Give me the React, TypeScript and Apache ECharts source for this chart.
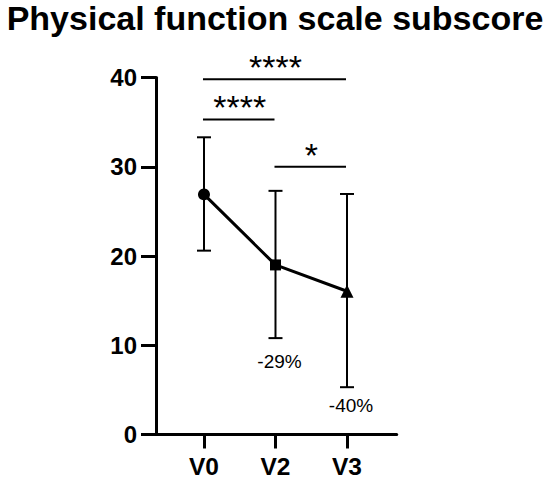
import React, { useEffect, useRef } from 'react';
import * as echarts from 'echarts';

// visits and summary values (mean with error bar limits)
const visits = ['V0', 'V2', 'V3'];
const means = [26.9, 19.0, 16.05];
const upper = [33.3, 27.3, 26.95];
const lower = [20.6, 10.8, 5.3];
const markers = ['circle', 'rect', 'triangle'];

// percent change labels under the error bars
const changeText = ['-29%', '-40%'];
const changeIndex = [1, 2];
const changeY = [8.2, 3.2];

// significance brackets
const bracketFrom = [0, 0, 1];
const bracketTo = [2, 1, 2];
const bracketY = [39.8, 35.3, 30.0];
const bracketStars = ['****', '****', '*'];

const yTicks = [0, 10, 20, 30, 40];

const FONT = '"Liberation Sans", Arial, sans-serif';

const App: React.FC = () => {
  const chartRef = useRef<HTMLDivElement>(null);

  useEffect(() => {
    document.body.style.margin = '0';
    if (!chartRef.current) return;
    const chart = echarts.init(chartRef.current, undefined, { renderer: 'svg' });

    const lineData = visits.map((_, i) => ({
      value: [i, means[i]],
      symbol: markers[i],
      symbolSize: markers[i] === 'triangle' ? 13 : markers[i] === 'rect' ? 11 : 12,
    }));

    const errorData = visits.map((_, i) => [i, upper[i], lower[i]]);
    const bracketData = bracketY.map((y, i) => [bracketFrom[i], bracketTo[i], y]);
    const changeData = changeText.map((_, i) => [changeIndex[i], changeY[i]]);

    chart.setOption({
      animation: false,
      backgroundColor: '#fff',
      textStyle: { fontFamily: FONT },
      title: {
        text: 'Physical function scale subscore',
        left: 'center',
        top: 1,
        padding: 0,
        textStyle: { fontSize: 34, lineHeight: 34, fontWeight: 'bold', color: '#000', fontFamily: FONT },
      },
      grid: { left: 156, right: 153.3, top: 77.5, bottom: 51.5, containLabel: false },
      xAxis: {
        type: 'value',
        min: -0.671,
        max: 2.695,
        axisLine: { onZero: false, lineStyle: { color: '#000', width: 3 } },
        axisTick: { customValues: [0, 1, 2], length: 14, lineStyle: { color: '#000', width: 3 } },
        axisLabel: {
          customValues: [0, 1, 2],
          formatter: (v: number) => visits[Math.round(v)] ?? '',
          fontSize: 24.5,
          fontWeight: 'bold',
          color: '#000',
          fontFamily: FONT,
          margin: 19,
        },
        splitLine: { show: false },
      },
      yAxis: {
        type: 'value',
        min: yTicks[0],
        max: yTicks[yTicks.length - 1],
        interval: 10,
        axisLine: { show: true, onZero: false, lineStyle: { color: '#000', width: 3 } },
        axisTick: { show: true, length: 15, lineStyle: { color: '#000', width: 3 } },
        axisLabel: { fontSize: 24, fontWeight: 'bold', color: '#000', fontFamily: FONT, margin: 19 },
        splitLine: { show: false },
      },
      series: [
        {
          type: 'custom',
          name: 'error',
          data: errorData,
          encode: { x: 0, y: [1, 2] },
          renderItem: (_params: any, api: any) => {
            const x = api.value(0);
            const top = api.coord([x, api.value(1)]);
            const bottom = api.coord([x, api.value(2)]);
            const cap = 7;
            const style = { stroke: '#000', lineWidth: 2 };
            return {
              type: 'group',
              children: [
                { type: 'line', shape: { x1: top[0], y1: top[1], x2: bottom[0], y2: bottom[1] }, style },
                { type: 'line', shape: { x1: top[0] - cap, y1: top[1], x2: top[0] + cap, y2: top[1] }, style },
                { type: 'line', shape: { x1: bottom[0] - cap, y1: bottom[1], x2: bottom[0] + cap, y2: bottom[1] }, style },
              ],
            };
          },
          z: 2,
        },
        {
          type: 'line',
          data: lineData,
          lineStyle: { color: '#000', width: 3 },
          itemStyle: { color: '#000' },
          z: 3,
        },
        {
          type: 'custom',
          name: 'brackets',
          data: bracketData,
          encode: { x: [0, 1], y: 2 },
          clip: false,
          renderItem: (params: any, api: any) => {
            const y = api.value(2);
            const a = api.coord([api.value(0), y]);
            const b = api.coord([api.value(1), y]);
            return {
              type: 'group',
              children: [
                { type: 'line', shape: { x1: a[0] - 1, y1: a[1], x2: b[0] - 1, y2: b[1] }, style: { stroke: '#000', lineWidth: 2 } },
                {
                  type: 'text',
                  x: (a[0] + b[0]) / 2,
                  y: a[1] - 12,
                  style: {
                    text: bracketStars[params.dataIndex],
                    fontSize: 34,
                    fontFamily: FONT,
                    fill: '#000',
                    align: 'center',
                    verticalAlign: 'middle',
                  },
                },
              ],
            };
          },
          z: 4,
        },
        {
          type: 'custom',
          name: 'change',
          data: changeData,
          encode: { x: 0, y: 1 },
          clip: false,
          renderItem: (params: any, api: any) => {
            const p = api.coord([api.value(0), api.value(1)]);
            return {
              type: 'text',
              x: p[0] + 4,
              y: p[1],
              style: {
                text: changeText[params.dataIndex],
                fontSize: 19,
                fontFamily: FONT,
                fill: '#000',
                align: 'center',
                verticalAlign: 'middle',
              },
            };
          },
          z: 4,
        },
      ],
    });

    return () => {
      chart.dispose();
    };
  }, []);

  return <div ref={chartRef} style={{ width: 550, height: 486 }} />;
};

export default App;
